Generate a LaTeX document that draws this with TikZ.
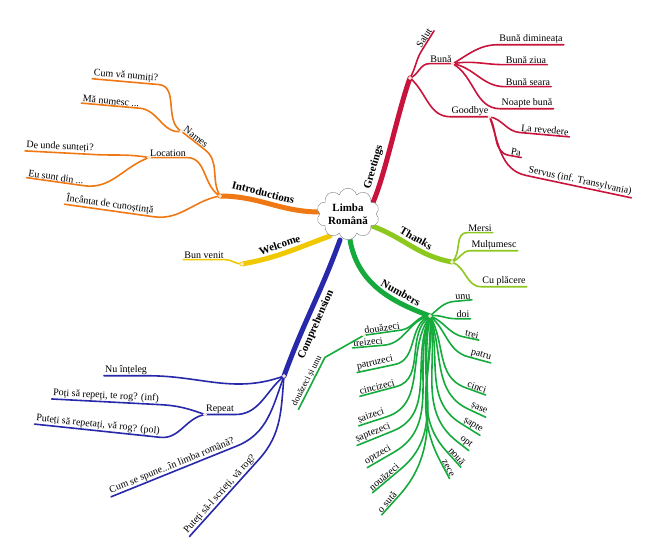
\documentclass[tikz,border=0pt]{standalone}
\usepackage{fontspec}
\setmainfont{Liberation Serif}
\usetikzlibrary{shapes.symbols}
\definecolor{cGreet}{RGB}{200,20,60}
\definecolor{cIntro}{RGB}{240,120,20}
\definecolor{cWelc}{RGB}{240,200,0}
\definecolor{cThank}{RGB}{140,200,30}
\definecolor{cNum}{RGB}{20,170,60}
\definecolor{cComp}{RGB}{40,40,170}
\tikzset{
	every node/.style={align=center, font=\fontsize{10}{12}\selectfont, inner sep=1pt, text=black},
	trunk/.style={line width=5pt, line cap=round},
	twig/.style={line width=1.6pt, line cap=round},
	head/.style={font=\fontsize{11}{13}\selectfont\bfseries, sloped, inner sep=3pt},
	hub/.style={circle, fill=orange!30, draw=white, inner sep=1.2pt},
}
% leaf to the left / right of its hub: #1 colour, #2 hub, #3 name, #4 x, #5 y, #6 rotation, #7 out angle, #8 text
\newcommand{\leftleaf}[8]{
	\node[rotate=#6] (#3) at (#4,#5) {#8};
	\draw[twig, #1] (#2) to[out=#7,in=#6] (#3.south east) -- (#3.south west);
}
\newcommand{\rightleaf}[8]{
	\node[rotate=#6] (#3) at (#4,#5) {#8};
	\draw[twig, #1] (#2) to[out=#7,in=180+#6] (#3.south west) -- (#3.south east);
}
\begin{document}
\begin{tikzpicture}[x=1pt,y=-1pt]
		\useasboundingbox (0,0) rectangle (653,548);
		
		% hubs of the main branches
		\coordinate (gr) at (410,78);
		\coordinate (in) at (220,196);
		\coordinate (th) at (452,262);
		\coordinate (we) at (242,264);
		\coordinate (nu) at (430,316);
		\coordinate (co) at (284,376);
		
		% main branches
		\draw[trunk, cGreet] (352,205) to[out=-70,in=250] node[head, above, pos=0.55] (greet) {Greetings} (gr);
		\draw[trunk, cIntro] (320,212) to[out=180,in=0] node[head, above, pos=0.6] (intro) {Introductions} (in);
		\draw[trunk, cThank] (372,226) to[out=-20,in=170] node[head, above, pos=0.5] (thank) {Thanks} (th);
		\draw[trunk, cWelc] (330,236) to[out=200,in=10] node[head, above, pos=0.55] (welc) {Welcome} (we);
		\draw[trunk, cNum] (350,240) to[out=-80,in=160] node[head, above, pos=0.7] (numb) {Numbers} (nu);
		\draw[trunk, cComp] (340,240) to[out=250,in=70] node[head, below, pos=0.6] (comp) {Comprehension} (co);
		
		\node[cloud, draw=gray, fill=white, cloud puffs=10, aspect=1.4, inner sep=0pt, font=\fontsize{11}{13}\selectfont\bfseries] (root) at (348,214) {Limba\\Română};
		
		% Greetings
		\rightleaf{cGreet}{gr}{salut}{424}{38}{58}{60}{Salut}
		\rightleaf{cGreet}{gr}{buna}{441}{59}{0}{20}{Bună}
		\rightleaf{cGreet}{gr}{good}{470}{111}{0}{-40}{Goodbye}
		\rightleaf{cGreet}{buna.south east}{bdim}{531}{39}{0}{30}{Bună dimineața}
		\rightleaf{cGreet}{buna.south east}{bziu}{526}{60}{0}{10}{Bună ziua}
		\rightleaf{cGreet}{buna.south east}{bsea}{528}{82}{0}{-10}{Bună seara}
		\rightleaf{cGreet}{buna.south east}{bnoa}{527}{103}{0}{-30}{Noapte bună}
		\rightleaf{cGreet}{good.south east}{lare}{545}{130}{-5}{-10}{La revedere}
		\rightleaf{cGreet}{good.south east}{pa}{516}{152}{-10}{-60}{Pa}
		\rightleaf{cGreet}{good.south east}{serv}{580}{181}{-12}{-70}{Servus (inf. Transylvania)}
		\node[hub] at (gr) {}; \node[hub] at (buna.south east) {}; \node[hub] at (good.south east) {};
		
		% Introductions
		\leftleaf{cIntro}{in}{names}{196}{137}{-38}{120}{Names}
		\leftleaf{cIntro}{in}{loc}{168}{153}{0}{150}{Location}
		\leftleaf{cIntro}{in}{inca}{110}{204}{-8}{190}{Încântat de cunoștință}
		\leftleaf{cIntro}{names.south west}{cum}{126}{76}{-5}{150}{Cum vă numiți?}
		\leftleaf{cIntro}{names.south west}{manu}{111}{101}{-5}{190}{Mă numesc ...}
		\leftleaf{cIntro}{loc.south west}{deun}{60}{147}{-3}{170}{De unde sunteți?}
		\leftleaf{cIntro}{loc.south west}{eusu}{56}{177}{-8}{200}{Eu sunt din ...}
		\node[hub] at (in) {}; \node[hub] at (names.south west) {}; \node[hub] at (loc.south west) {};
		
		% Thanks
		\rightleaf{cThank}{th}{mers}{480}{228}{0}{40}{Mersi}
		\rightleaf{cThank}{th}{mult}{494}{245}{0}{20}{Mulțumesc}
		\rightleaf{cThank}{th}{cupl}{504}{281}{0}{-20}{Cu plăcere}
		\node[hub] at (th) {};
		
		% Welcome
		\leftleaf{cWelc}{we}{bunv}{204}{255}{0}{180}{Bun venit}
		\node[hub] at (we) {};
		
		% Numbers
		\foreach \nm/\tx/\lx/\ly/\rt/\oo in {
			unu/unu/463/297/5/40,
			doi/doi/463/314/0/10,
			trei/trei/472/334/-12/-20,
			patru/patru/481/355/-15/-40,
			cinci/cinci/477/387/-20/-60,
			sase/șase/479/409/-25/-70,
			sapte/șapte/473/425/-32/-75,
			opt/opt/466/442/-38/-80,
			noua/nouă/457/456/-48/-85,
			zece/zece/448/468/-62/-88}
		{
			\rightleaf{cNum}{nu}{n-\nm}{\lx}{\ly}{\rt}{\oo}{\tx}
		}
		\foreach \nm/\tx/\lx/\ly/\rt/\oo in {
			tre/treizeci/368/342/5/190,
			pat/patruzeci/375/363/12/200,
			cin/cincizeci/377/387/15/215,
			sai/șaizeci/371/416/18/235,
			sap/șaptezeci/373/433/22/245,
			opz/optzeci/378/455/30/250,
			nou/nouăzeci/384/477/40/255,
			osu/o sută/387/502/48/260}
		{
			\leftleaf{cNum}{nu}{n-\nm}{\lx}{\ly}{\rt}{\oo}{\tx}
		}
		\leftleaf{cNum}{nu}{n-dou}{382}{328}{8}{170}{douăzeci}
		\node[rotate=63, font=\fontsize{9}{11}\selectfont] (n-dsu) at (307,381) {douăzeci și unu};
		\draw[twig, cNum] (n-dou.south west) -- (n-dsu.south east) -- (n-dsu.south west);
		\node[hub] at (nu) {}; \node[hub] at (n-dou.south west) {};
		
		% Comprehension
		\leftleaf{cComp}{co}{nuin}{126}{370}{0}{200}{Nu înțeleg}
		\leftleaf{cComp}{co}{rep}{220}{409}{0}{220}{Repeat}
		\leftleaf{cComp}{rep.south west}{poti}{106}{396}{-3}{160}{Poți să repeți, te rog? (inf)}
		\leftleaf{cComp}{rep.south west}{put}{98}{425}{-6}{190}{Puteți să repetați, vă rog? (pol)}
		\leftleaf{cComp}{co}{cums}{172}{466}{22}{250}{Cum se spune...în limba română?}
		\leftleaf{cComp}{co}{scri}{220}{494}{48}{265}{Puteți să-l scrieți, vă rog?}
		\node[hub] at (co) {}; \node[hub] at (rep.south west) {};
	\end{tikzpicture}
\end{document}
